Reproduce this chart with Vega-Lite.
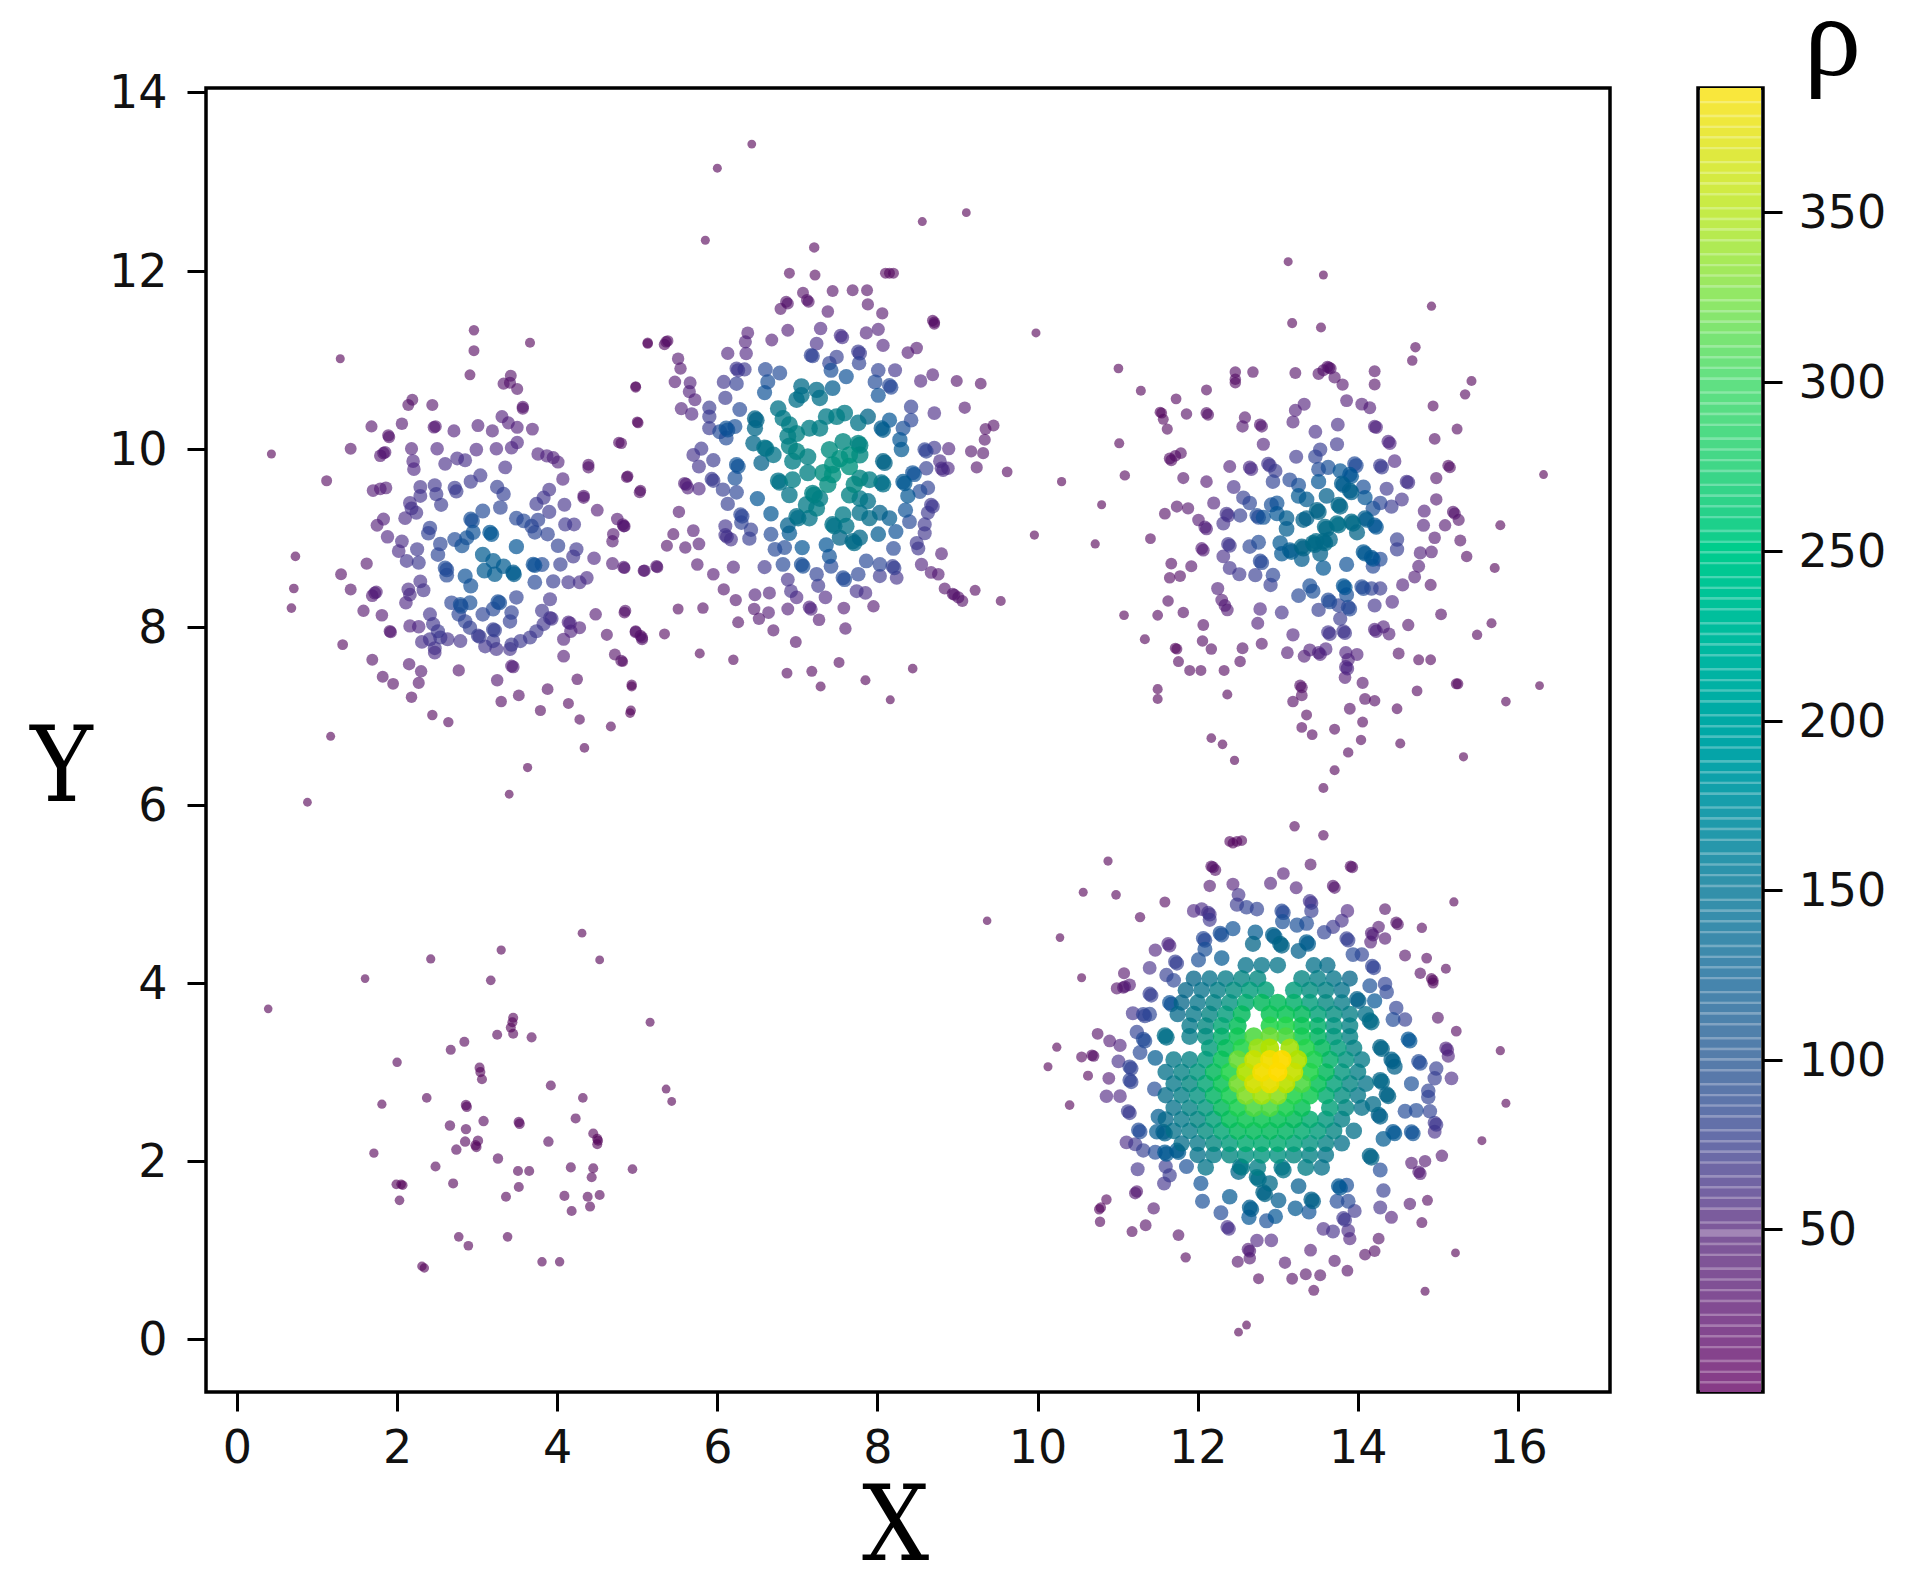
{"$schema":"https://vega.github.io/schema/vega-lite/v6.json","background":"white","padding":{"left":28,"top":-20,"right":5,"bottom":5},"spacing":88,"bounds":"flush","resolve":{"scale":{"color":"independent"}},"config":{"view":{"stroke":"#000","strokeWidth":3.5},"axis":{"domain":false,"grid":false,"tickColor":"#000","tickWidth":3,"tickSize":19,"labelFont":"DejaVu Sans","labelFontSize":46,"labelColor":"#111"}},"datasets":{"pts":[
{"x":0.43,"y":9.94,"r":5},{"x":1.29,"y":11.01,"r":5},{"x":2.96,"y":11.33,"r":12},{"x":2.96,"y":11.1,"r":15},{"x":2.91,"y":10.83,"r":15},{"x":3.66,"y":11.19,"r":10},{"x":5.13,"y":11.19,"r":12},{"x":4.98,"y":10.7,"r":12},{"x":5,"y":10.3,"r":15},{"x":4.77,"y":10.07,"r":18},{"x":4.39,"y":9.82,"r":25},{"x":4.39,"y":9.79,"r":25},{"x":4.88,"y":9.69,"r":18},{"x":5.04,"y":9.53,"r":18},{"x":4.33,"y":9.47,"r":30},{"x":4.33,"y":9.45,"r":30},{"x":4.5,"y":9.31,"r":35},{"x":3.42,"y":10.82,"r":22},{"x":3.33,"y":10.73,"r":25},{"x":3.41,"y":10.74,"r":25},{"x":3.5,"y":10.67,"r":25},{"x":3.57,"y":10.47,"r":28},{"x":3.57,"y":10.45,"r":28},{"x":2.19,"y":10.55,"r":22},{"x":2.14,"y":10.49,"r":22},{"x":2.44,"y":10.49,"r":25},{"x":1.68,"y":10.25,"r":25},{"x":2.06,"y":10.28,"r":30},{"x":1.89,"y":10.15,"r":28},{"x":1.9,"y":10.13,"r":28},{"x":2.46,"y":10.24,"r":32},{"x":2.48,"y":10.25,"r":32},{"x":2.71,"y":10.2,"r":40},{"x":3.01,"y":10.26,"r":40},{"x":3.19,"y":10.2,"r":42},{"x":3.31,"y":10.36,"r":40},{"x":3.39,"y":10.29,"r":40},{"x":3.5,"y":10.24,"r":40},{"x":3.69,"y":10.22,"r":38},{"x":1.42,"y":10,"r":22},{"x":1.83,"y":9.95,"r":32},{"x":1.85,"y":9.96,"r":32},{"x":1.79,"y":9.92,"r":32},{"x":2.18,"y":10,"r":42},{"x":2.2,"y":9.86,"r":50},{"x":2.21,"y":9.77,"r":50},{"x":2.5,"y":10,"r":50},{"x":2.6,"y":9.83,"r":58},{"x":2.75,"y":9.89,"r":58},{"x":2.85,"y":9.87,"r":60},{"x":2.99,"y":9.99,"r":52},{"x":3.24,"y":10,"r":50},{"x":3.43,"y":10.01,"r":50},{"x":3.5,"y":10.07,"r":48},{"x":3.35,"y":9.79,"r":60},{"x":3.76,"y":9.94,"r":45},{"x":3.87,"y":9.92,"r":45},{"x":3.95,"y":9.9,"r":42},{"x":4.01,"y":9.85,"r":42},{"x":4.07,"y":9.66,"r":45},{"x":1.12,"y":9.64,"r":15},{"x":1.7,"y":9.53,"r":35},{"x":1.79,"y":9.55,"r":35},{"x":1.86,"y":9.56,"r":38},{"x":2.29,"y":9.57,"r":62},{"x":2.47,"y":9.59,"r":68},{"x":2.29,"y":9.47,"r":65},{"x":2.49,"y":9.49,"r":72},{"x":2.55,"y":9.37,"r":75},{"x":2.72,"y":9.56,"r":75},{"x":2.74,"y":9.52,"r":75},{"x":2.92,"y":9.63,"r":72},{"x":3.04,"y":9.7,"r":70},{"x":3.25,"y":9.57,"r":80},{"x":3.33,"y":9.49,"r":82},{"x":3.29,"y":9.34,"r":88},{"x":2.16,"y":9.39,"r":60},{"x":2.24,"y":9.28,"r":62},{"x":2.1,"y":9.22,"r":55},{"x":2.18,"y":9.33,"r":62},{"x":3.9,"y":9.54,"r":62},{"x":3.83,"y":9.45,"r":68},{"x":3.74,"y":9.38,"r":72},{"x":3.9,"y":9.29,"r":72},{"x":4.09,"y":9.37,"r":62},{"x":4.75,"y":9.21,"r":32},{"x":4.83,"y":9.13,"r":30},{"x":4.7,"y":9.04,"r":30},{"x":4.69,"y":8.96,"r":30},{"x":1.83,"y":9.21,"r":40},{"x":1.75,"y":9.14,"r":38},{"x":1.88,"y":9.01,"r":48},{"x":2.06,"y":8.96,"r":55},{"x":2.02,"y":8.85,"r":55},{"x":2.41,"y":9.11,"r":85},{"x":2.39,"y":9.05,"r":85},{"x":2.92,"y":9.21,"r":105},{"x":2.94,"y":9.19,"r":105},{"x":3.07,"y":9.3,"r":100},{"x":3.16,"y":9.06,"r":120},{"x":3.18,"y":9.04,"r":120},{"x":2.95,"y":9.06,"r":110},{"x":2.72,"y":8.98,"r":100},{"x":2.87,"y":9,"r":108},{"x":2.81,"y":8.91,"r":108},{"x":2.54,"y":8.93,"r":90},{"x":2.51,"y":8.81,"r":90},{"x":2.25,"y":8.87,"r":70},{"x":2.12,"y":8.74,"r":65},{"x":2.27,"y":8.72,"r":72},{"x":3.49,"y":9.22,"r":95},{"x":3.58,"y":9.19,"r":95},{"x":3.68,"y":9.13,"r":92},{"x":3.72,"y":9.06,"r":92},{"x":3.88,"y":9.04,"r":85},{"x":3.76,"y":9.2,"r":85},{"x":4.1,"y":9.15,"r":70},{"x":4.21,"y":9.15,"r":65},{"x":3.49,"y":8.9,"r":115},{"x":4.01,"y":8.91,"r":85},{"x":4.24,"y":8.87,"r":70},{"x":4.2,"y":8.79,"r":68},{"x":4.04,"y":8.7,"r":80},{"x":4.46,"y":8.77,"r":50},{"x":4.69,"y":8.71,"r":38},{"x":4.83,"y":8.67,"r":35},{"x":5.09,"y":8.63,"r":30},{"x":5.24,"y":8.68,"r":30},{"x":3.07,"y":8.81,"r":130},{"x":3.2,"y":8.74,"r":130},{"x":3.33,"y":8.68,"r":130},{"x":3.09,"y":8.63,"r":128},{"x":3.22,"y":8.59,"r":130},{"x":3.45,"y":8.61,"r":135},{"x":3.46,"y":8.59,"r":135},{"x":3.7,"y":8.7,"r":110},{"x":3.72,"y":8.69,"r":110},{"x":3.81,"y":8.7,"r":100},{"x":3.72,"y":8.5,"r":95},{"x":3.95,"y":8.51,"r":78},{"x":4.14,"y":8.5,"r":65},{"x":4.28,"y":8.5,"r":58},{"x":4.37,"y":8.55,"r":55},{"x":2.6,"y":8.66,"r":100},{"x":2.62,"y":8.64,"r":100},{"x":2.62,"y":8.58,"r":95},{"x":2.85,"y":8.57,"r":110},{"x":2.92,"y":8.46,"r":108},{"x":1.62,"y":8.71,"r":28},{"x":1.3,"y":8.59,"r":20},{"x":1.42,"y":8.42,"r":22},{"x":0.73,"y":8.79,"r":8},{"x":0.71,"y":8.43,"r":8},{"x":0.68,"y":8.21,"r":8},{"x":1.72,"y":8.38,"r":38},{"x":1.74,"y":8.39,"r":38},{"x":1.69,"y":8.35,"r":35},{"x":2.29,"y":8.51,"r":60},{"x":2.14,"y":8.42,"r":55},{"x":2.16,"y":8.36,"r":55},{"x":2.33,"y":8.41,"r":62},{"x":2.11,"y":8.27,"r":52},{"x":1.58,"y":8.18,"r":28},{"x":1.81,"y":8.13,"r":32},{"x":1.32,"y":7.8,"r":14},{"x":1.91,"y":7.95,"r":30},{"x":1.92,"y":7.94,"r":30},{"x":2.16,"y":8.01,"r":45},{"x":2.27,"y":8,"r":50},{"x":2.41,"y":8.14,"r":65},{"x":2.45,"y":8.03,"r":68},{"x":2.51,"y":7.95,"r":72},{"x":2.31,"y":7.83,"r":58},{"x":2.41,"y":7.86,"r":65},{"x":2.54,"y":7.88,"r":70},{"x":2.47,"y":7.76,"r":62},{"x":2.63,"y":7.86,"r":62},{"x":2.47,"y":7.71,"r":55},{"x":2.68,"y":8.27,"r":90},{"x":2.79,"y":8.25,"r":105},{"x":2.8,"y":8.23,"r":105},{"x":2.91,"y":8.27,"r":105},{"x":2.77,"y":8.14,"r":90},{"x":2.85,"y":8.06,"r":85},{"x":2.91,"y":7.99,"r":80},{"x":2.79,"y":7.84,"r":62},{"x":3.07,"y":8.14,"r":88},{"x":3.2,"y":8.2,"r":95},{"x":3.26,"y":8.28,"r":105},{"x":3.28,"y":8.27,"r":105},{"x":3.49,"y":8.33,"r":85},{"x":3.91,"y":8.31,"r":65},{"x":3.43,"y":8.16,"r":85},{"x":3.41,"y":8.06,"r":82},{"x":3.81,"y":8.18,"r":68},{"x":3.91,"y":8.1,"r":62},{"x":3.93,"y":8.09,"r":62},{"x":3.83,"y":8.03,"r":68},{"x":3.74,"y":7.95,"r":72},{"x":3.66,"y":7.88,"r":72},{"x":3.54,"y":7.84,"r":72},{"x":3.43,"y":7.8,"r":72},{"x":3.2,"y":7.97,"r":80},{"x":3.22,"y":7.96,"r":80},{"x":3.01,"y":7.9,"r":75},{"x":3.03,"y":7.89,"r":75},{"x":3.1,"y":7.78,"r":65},{"x":3.2,"y":7.84,"r":72},{"x":3.24,"y":7.75,"r":62},{"x":3.41,"y":7.75,"r":62},{"x":4.14,"y":8.05,"r":48},{"x":4.16,"y":8.04,"r":48},{"x":4.17,"y":7.95,"r":45},{"x":4.28,"y":7.99,"r":40},{"x":4.08,"y":7.86,"r":42},{"x":4.08,"y":7.67,"r":35},{"x":4.48,"y":8.14,"r":32},{"x":4.85,"y":8.18,"r":25},{"x":4.62,"y":7.91,"r":25},{"x":4.98,"y":7.95,"r":22},{"x":5.06,"y":7.88,"r":22},{"x":5.04,"y":7.9,"r":22},{"x":4.72,"y":7.69,"r":22},{"x":4.8,"y":7.62,"r":22},{"x":2.15,"y":7.58,"r":30},{"x":2.3,"y":7.5,"r":30},{"x":2.27,"y":7.37,"r":25},{"x":1.82,"y":7.44,"r":22},{"x":1.95,"y":7.36,"r":20},{"x":1.69,"y":7.63,"r":22},{"x":2.18,"y":7.21,"r":18},{"x":2.77,"y":7.51,"r":28},{"x":3.43,"y":7.56,"r":38},{"x":3.45,"y":7.55,"r":38},{"x":3.25,"y":7.4,"r":30},{"x":4.25,"y":7.41,"r":18},{"x":3.88,"y":7.3,"r":20},{"x":3.52,"y":7.23,"r":20},{"x":3.3,"y":7.16,"r":18},{"x":3.79,"y":7.06,"r":16},{"x":4.14,"y":7.14,"r":15},{"x":4.93,"y":7.35,"r":12},{"x":4.92,"y":7.06,"r":10},{"x":4.28,"y":6.96,"r":12},{"x":4.67,"y":6.88,"r":10},{"x":2.44,"y":7.01,"r":12},{"x":2.64,"y":6.93,"r":12},{"x":1.17,"y":6.77,"r":5},{"x":4.34,"y":6.64,"r":8},{"x":3.63,"y":6.42,"r":6},{"x":3.4,"y":6.12,"r":4},{"x":0.88,"y":6.03,"r":4},
{"x":6.43,"y":13.42,"r":4},{"x":6,"y":13.15,"r":5},{"x":5.85,"y":12.34,"r":5},{"x":8.56,"y":12.55,"r":5},{"x":9.11,"y":12.65,"r":4},{"x":7.21,"y":12.26,"r":12},{"x":6.9,"y":11.97,"r":15},{"x":7.22,"y":11.95,"r":15},{"x":8.15,"y":11.97,"r":15},{"x":8.1,"y":11.97,"r":15},{"x":8.2,"y":11.97,"r":15},{"x":7.07,"y":11.75,"r":22},{"x":7.12,"y":11.67,"r":25},{"x":7.14,"y":11.65,"r":25},{"x":7.44,"y":11.77,"r":22},{"x":7.69,"y":11.78,"r":22},{"x":7.87,"y":11.78,"r":22},{"x":7.88,"y":11.62,"r":28},{"x":8.06,"y":11.52,"r":28},{"x":6.86,"y":11.65,"r":25},{"x":6.88,"y":11.63,"r":25},{"x":6.79,"y":11.57,"r":25},{"x":7.38,"y":11.54,"r":32},{"x":8.69,"y":11.44,"r":18},{"x":8.71,"y":11.42,"r":18},{"x":8.71,"y":11.4,"r":18},{"x":9.98,"y":11.3,"r":5},{"x":6.88,"y":11.33,"r":38},{"x":6.68,"y":11.22,"r":38},{"x":6.38,"y":11.3,"r":38},{"x":6.35,"y":11.2,"r":42},{"x":6.36,"y":11.07,"r":48},{"x":5.38,"y":11.21,"r":18},{"x":5.36,"y":11.2,"r":18},{"x":5.34,"y":11.17,"r":18},{"x":5.13,"y":11.18,"r":12},{"x":7.29,"y":11.35,"r":48},{"x":7.54,"y":11.27,"r":60},{"x":7.56,"y":11.25,"r":60},{"x":7.24,"y":11.18,"r":58},{"x":7.17,"y":11.05,"r":85},{"x":7.19,"y":11.04,"r":85},{"x":7.49,"y":11.03,"r":80},{"x":7.4,"y":10.96,"r":85},{"x":7.76,"y":11.09,"r":75},{"x":7.78,"y":11.07,"r":75},{"x":7.77,"y":10.96,"r":85},{"x":7.86,"y":11.3,"r":42},{"x":8.01,"y":11.34,"r":42},{"x":8.07,"y":11.16,"r":45},{"x":8.38,"y":11.08,"r":35},{"x":8.49,"y":11.13,"r":32},{"x":6.13,"y":11.07,"r":45},{"x":5.51,"y":11.01,"r":30},{"x":5.54,"y":10.9,"r":30},{"x":5.47,"y":10.75,"r":32},{"x":5.66,"y":10.74,"r":40},{"x":5.65,"y":10.64,"r":42},{"x":5.72,"y":10.55,"r":42},{"x":4.98,"y":10.69,"r":15},{"x":5.55,"y":10.45,"r":42},{"x":5.68,"y":10.39,"r":48},{"x":5.01,"y":10.29,"r":15},{"x":6.24,"y":10.9,"r":70},{"x":6.26,"y":10.88,"r":70},{"x":6.34,"y":10.89,"r":72},{"x":6.08,"y":10.75,"r":68},{"x":6.24,"y":10.73,"r":82},{"x":6.1,"y":10.57,"r":75},{"x":5.9,"y":10.46,"r":75},{"x":5.9,"y":10.36,"r":75},{"x":5.9,"y":10.23,"r":75},{"x":6.28,"y":10.44,"r":95},{"x":6.11,"y":10.23,"r":110},{"x":6.13,"y":10.21,"r":110},{"x":6.03,"y":10.19,"r":100},{"x":6.22,"y":10.25,"r":105},{"x":6.11,"y":10.12,"r":100},{"x":6.6,"y":10.89,"r":95},{"x":6.78,"y":10.85,"r":100},{"x":6.63,"y":10.75,"r":105},{"x":6.59,"y":10.63,"r":110},{"x":7.05,"y":10.7,"r":160},{"x":7.24,"y":10.66,"r":160},{"x":7.28,"y":10.57,"r":165},{"x":6.99,"y":10.55,"r":165},{"x":7.05,"y":10.6,"r":165},{"x":7.44,"y":10.68,"r":135},{"x":7.61,"y":10.81,"r":110},{"x":7.42,"y":10.88,"r":105},{"x":8.01,"y":10.88,"r":85},{"x":8.22,"y":10.88,"r":65},{"x":7.97,"y":10.75,"r":100},{"x":8.15,"y":10.71,"r":95},{"x":8.17,"y":10.69,"r":95},{"x":8.01,"y":10.6,"r":110},{"x":8.54,"y":10.76,"r":45},{"x":8.69,"y":10.83,"r":38},{"x":8.99,"y":10.76,"r":25},{"x":9.29,"y":10.73,"r":20},{"x":8.42,"y":10.47,"r":82},{"x":8.42,"y":10.32,"r":90},{"x":8.71,"y":10.4,"r":55},{"x":9.09,"y":10.46,"r":30},{"x":9.45,"y":10.26,"r":22},{"x":9.35,"y":10.22,"r":22},{"x":9.34,"y":10.1,"r":25},{"x":9.17,"y":9.97,"r":28},{"x":9.32,"y":9.95,"r":25},{"x":9.24,"y":9.79,"r":25},{"x":9.62,"y":9.74,"r":14},{"x":10.3,"y":9.63,"r":6},{"x":4.8,"y":10.06,"r":18},{"x":4.87,"y":9.68,"r":20},{"x":5.03,"y":9.51,"r":22},{"x":5.8,"y":10,"r":70},{"x":5.7,"y":9.93,"r":62},{"x":5.95,"y":9.87,"r":75},{"x":5.77,"y":9.8,"r":65},{"x":6.24,"y":9.82,"r":110},{"x":6.26,"y":9.8,"r":110},{"x":6.22,"y":9.67,"r":105},{"x":5.93,"y":9.66,"r":75},{"x":5.95,"y":9.64,"r":75},{"x":5.59,"y":9.61,"r":38},{"x":5.61,"y":9.6,"r":38},{"x":5.63,"y":9.56,"r":40},{"x":5.77,"y":9.55,"r":50},{"x":6.07,"y":9.54,"r":80},{"x":6.24,"y":9.51,"r":90},{"x":6.13,"y":9.38,"r":80},{"x":6.29,"y":9.26,"r":90},{"x":6.31,"y":9.24,"r":90},{"x":6.3,"y":9.17,"r":85},{"x":6.5,"y":9.44,"r":115},{"x":6.67,"y":9.27,"r":120},{"x":5.52,"y":9.29,"r":30},{"x":4.82,"y":9.15,"r":28},{"x":4.84,"y":9.13,"r":28},{"x":5.45,"y":9.04,"r":25},{"x":5.7,"y":9.08,"r":35},{"x":5.37,"y":8.91,"r":25},{"x":5.6,"y":8.89,"r":30},{"x":5.77,"y":8.93,"r":35},{"x":6.1,"y":9.13,"r":65},{"x":6.1,"y":9.03,"r":62},{"x":6.12,"y":9.01,"r":62},{"x":6.17,"y":8.98,"r":62},{"x":6.42,"y":9.09,"r":80},{"x":6.4,"y":8.99,"r":78},{"x":6.67,"y":9.04,"r":100},{"x":6.9,"y":9.05,"r":125},{"x":6.72,"y":8.87,"r":95},{"x":6.84,"y":8.89,"r":100},{"x":6.82,"y":8.7,"r":95},{"x":4.84,"y":8.66,"r":25},{"x":5.08,"y":8.63,"r":25},{"x":5.25,"y":8.67,"r":25},{"x":5.75,"y":8.7,"r":32},{"x":5.95,"y":8.59,"r":32},{"x":6.2,"y":8.67,"r":42},{"x":6.59,"y":8.67,"r":68},{"x":6.08,"y":8.42,"r":28},{"x":6.23,"y":8.3,"r":28},{"x":6.47,"y":8.36,"r":40},{"x":6.65,"y":8.38,"r":42},{"x":5.51,"y":8.2,"r":15},{"x":5.82,"y":8.21,"r":18},{"x":6.46,"y":8.2,"r":30},{"x":6.64,"y":8.16,"r":35},{"x":6.52,"y":8.09,"r":30},{"x":4.84,"y":8.16,"r":20},{"x":6.26,"y":8.05,"r":22},{"x":6.7,"y":7.96,"r":25},{"x":4.98,"y":7.94,"r":25},{"x":5.06,"y":7.86,"r":25},{"x":5.34,"y":7.92,"r":15},{"x":6.98,"y":7.83,"r":22},{"x":5.78,"y":7.7,"r":10},{"x":6.2,"y":7.63,"r":12},{"x":4.82,"y":7.61,"r":12},{"x":6.87,"y":7.48,"r":15},{"x":7.18,"y":7.5,"r":15},{"x":7.52,"y":7.6,"r":15},{"x":7.29,"y":7.33,"r":10},{"x":7.85,"y":7.4,"r":10},{"x":8.44,"y":7.53,"r":8},{"x":8.16,"y":7.18,"r":5},{"x":7.6,"y":7.98,"r":30},{"x":4.93,"y":7.33,"r":10},{"x":4.91,"y":7.03,"r":8},{"x":6.88,"y":8.53,"r":62},{"x":6.92,"y":8.4,"r":60},{"x":6.99,"y":8.33,"r":50},{"x":6.88,"y":8.2,"r":38},{"x":7.15,"y":8.22,"r":45},{"x":7.17,"y":8.2,"r":45},{"x":7.05,"y":8.7,"r":105},{"x":7.07,"y":8.68,"r":105},{"x":7.24,"y":8.59,"r":85},{"x":7.26,"y":8.46,"r":70},{"x":7.35,"y":8.33,"r":50},{"x":7.27,"y":8.08,"r":32},{"x":7.58,"y":8.21,"r":35},{"x":7.95,"y":8.23,"r":30},{"x":7.06,"y":8.89,"r":115},{"x":7.36,"y":8.92,"r":115},{"x":7.4,"y":8.79,"r":110},{"x":7.42,"y":8.68,"r":95},{"x":7.57,"y":8.55,"r":100},{"x":7.59,"y":8.53,"r":100},{"x":7.76,"y":8.59,"r":90},{"x":7.74,"y":8.4,"r":62},{"x":7.85,"y":8.38,"r":55},{"x":7.86,"y":8.74,"r":95},{"x":8.03,"y":8.7,"r":90},{"x":8.03,"y":8.57,"r":72},{"x":8.19,"y":8.68,"r":80},{"x":8.21,"y":8.66,"r":80},{"x":8.24,"y":8.55,"r":62},{"x":8.2,"y":8.88,"r":95},{"x":8.55,"y":8.7,"r":45},{"x":8.67,"y":8.61,"r":35},{"x":8.76,"y":8.59,"r":32},{"x":8.8,"y":8.82,"r":38},{"x":8.49,"y":8.94,"r":70},{"x":8.51,"y":8.88,"r":68},{"x":8.23,"y":9.07,"r":110},{"x":8.84,"y":8.43,"r":25},{"x":8.94,"y":8.37,"r":25},{"x":8.96,"y":8.36,"r":25},{"x":9.01,"y":8.33,"r":25},{"x":9.06,"y":8.29,"r":22},{"x":9.22,"y":8.41,"r":15},{"x":9.54,"y":8.29,"r":10},{"x":9.96,"y":9.03,"r":6},{"x":8.59,"y":9.15,"r":70},{"x":8.59,"y":9.05,"r":68},{"x":8.4,"y":9.18,"r":95},{"x":8.35,"y":9.31,"r":110},{"x":8.67,"y":9.37,"r":70},{"x":8.69,"y":9.35,"r":70},{"x":8.63,"y":9.28,"r":72},{"x":8.63,"y":9.56,"r":85},{"x":8.38,"y":9.47,"r":120},{"x":8.53,"y":9.52,"r":100},{"x":8.32,"y":9.63,"r":125},{"x":8.34,"y":9.61,"r":125},{"x":8.44,"y":9.73,"r":110},{"x":8.46,"y":9.71,"r":110},{"x":8.61,"y":9.78,"r":80},{"x":8.8,"y":9.78,"r":55},{"x":8.82,"y":9.76,"r":55},{"x":8.88,"y":9.78,"r":52},{"x":8.78,"y":9.86,"r":55},{"x":8.59,"y":9.99,"r":85},{"x":8.61,"y":9.97,"r":85},{"x":8.71,"y":10.01,"r":70},{"x":8.89,"y":10,"r":45},{"x":8.28,"y":10.1,"r":115},{"x":8.3,"y":9.99,"r":125},{"x":8.32,"y":10.23,"r":105},{"x":8.07,"y":9.86,"r":150},{"x":8.09,"y":9.84,"r":150},{"x":8.05,"y":10.23,"r":135},{"x":8.07,"y":10.21,"r":135},{"x":8.15,"y":10.32,"r":115},
{"x":6.47,"y":10.34,"r":150},{"x":6.49,"y":10.32,"r":150},{"x":6.47,"y":10.23,"r":155},{"x":6.45,"y":10.06,"r":155},{"x":6.59,"y":10.01,"r":170},{"x":6.61,"y":10,"r":170},{"x":6.7,"y":9.93,"r":170},{"x":6.55,"y":9.84,"r":145},{"x":6.76,"y":10.45,"r":170},{"x":6.82,"y":10.34,"r":180},{"x":6.9,"y":10.27,"r":185},{"x":6.88,"y":10.14,"r":185},{"x":6.99,"y":10.17,"r":190},{"x":6.9,"y":10.03,"r":190},{"x":6.99,"y":9.97,"r":195},{"x":6.94,"y":9.86,"r":185},{"x":7.13,"y":9.91,"r":190},{"x":7.15,"y":10.23,"r":185},{"x":7.28,"y":10.23,"r":185},{"x":7.36,"y":10.36,"r":180},{"x":7.49,"y":10.36,"r":185},{"x":7.59,"y":10.4,"r":180},{"x":7.76,"y":10.29,"r":170},{"x":7.88,"y":10.36,"r":150},{"x":7.57,"y":10.08,"r":200},{"x":7.4,"y":9.99,"r":205},{"x":7.76,"y":10.06,"r":195},{"x":7.78,"y":10.04,"r":195},{"x":7.78,"y":9.93,"r":200},{"x":7.65,"y":9.93,"r":208},{"x":7.53,"y":9.89,"r":210},{"x":7.44,"y":9.82,"r":210},{"x":7.65,"y":9.8,"r":212},{"x":7.32,"y":9.73,"r":205},{"x":7.13,"y":9.73,"r":190},{"x":7.44,"y":9.71,"r":210},{"x":7.38,"y":9.6,"r":205},{"x":6.76,"y":9.64,"r":170},{"x":6.78,"y":9.62,"r":170},{"x":6.94,"y":9.65,"r":185},{"x":7.9,"y":9.65,"r":185},{"x":8.05,"y":9.62,"r":165},{"x":8.07,"y":9.6,"r":165},{"x":7.78,"y":9.67,"r":195},{"x":7.71,"y":9.6,"r":200},{"x":7.19,"y":9.5,"r":190},{"x":7.21,"y":9.48,"r":190},{"x":7.28,"y":9.44,"r":185},{"x":7.11,"y":9.37,"r":180},{"x":7.24,"y":9.33,"r":185},{"x":6.99,"y":9.24,"r":165},{"x":7.01,"y":9.22,"r":165},{"x":7.15,"y":9.22,"r":170},{"x":6.9,"y":9.48,"r":170},{"x":6.88,"y":9.14,"r":140},{"x":7.65,"y":9.48,"r":190},{"x":7.78,"y":9.44,"r":175},{"x":7.88,"y":9.41,"r":165},{"x":7.57,"y":9.26,"r":180},{"x":7.78,"y":9.28,"r":165},{"x":7.9,"y":9.22,"r":160},{"x":8.03,"y":9.28,"r":145},{"x":8.15,"y":9.22,"r":130},{"x":7.44,"y":9.15,"r":170},{"x":7.46,"y":9.13,"r":170},{"x":7.61,"y":9.13,"r":170},{"x":8.01,"y":9.04,"r":130},{"x":7.69,"y":8.96,"r":160},{"x":7.71,"y":8.94,"r":160},{"x":7.53,"y":9,"r":150},{"x":7.78,"y":9,"r":155},
{"x":13.13,"y":12.1,"r":5},{"x":13.57,"y":11.95,"r":5},{"x":14.92,"y":11.6,"r":6},{"x":13.18,"y":11.41,"r":10},{"x":13.54,"y":11.36,"r":10},{"x":14.72,"y":11.14,"r":12},{"x":14.68,"y":10.99,"r":12},{"x":11.01,"y":10.9,"r":8},{"x":12.47,"y":10.86,"r":18},{"x":12.47,"y":10.78,"r":18},{"x":12.47,"y":10.74,"r":18},{"x":12.69,"y":10.86,"r":18},{"x":13.22,"y":10.85,"r":22},{"x":13.51,"y":10.84,"r":25},{"x":13.64,"y":10.91,"r":25},{"x":13.66,"y":10.9,"r":25},{"x":13.62,"y":10.92,"r":25},{"x":13.57,"y":10.88,"r":25},{"x":13.71,"y":10.8,"r":28},{"x":13.81,"y":10.72,"r":28},{"x":14.21,"y":10.87,"r":22},{"x":14.21,"y":10.72,"r":22},{"x":15.42,"y":10.76,"r":10},{"x":15.34,"y":10.61,"r":12},{"x":11.29,"y":10.65,"r":10},{"x":12.11,"y":10.66,"r":15},{"x":11.73,"y":10.56,"r":14},{"x":11.53,"y":10.41,"r":15},{"x":11.55,"y":10.4,"r":15},{"x":11.57,"y":10.33,"r":15},{"x":11.62,"y":10.22,"r":16},{"x":11.86,"y":10.39,"r":18},{"x":12.11,"y":10.4,"r":22},{"x":12.13,"y":10.38,"r":22},{"x":12.59,"y":10.35,"r":28},{"x":12.56,"y":10.25,"r":30},{"x":12.78,"y":10.27,"r":30},{"x":12.8,"y":10.25,"r":30},{"x":13.33,"y":10.5,"r":40},{"x":13.22,"y":10.43,"r":40},{"x":13.19,"y":10.3,"r":42},{"x":13.86,"y":10.54,"r":38},{"x":14.05,"y":10.5,"r":38},{"x":14.15,"y":10.46,"r":38},{"x":14.21,"y":10.25,"r":45},{"x":14.23,"y":10.24,"r":45},{"x":14.38,"y":10.08,"r":48},{"x":14.4,"y":10.06,"r":48},{"x":14.94,"y":10.48,"r":15},{"x":15.24,"y":10.22,"r":15},{"x":14.96,"y":10.11,"r":20},{"x":11.02,"y":10.06,"r":10},{"x":12.82,"y":10.05,"r":42},{"x":13.47,"y":10.19,"r":58},{"x":13.75,"y":10.27,"r":58},{"x":11.09,"y":9.7,"r":12},{"x":11.65,"y":9.89,"r":20},{"x":11.67,"y":9.87,"r":20},{"x":11.79,"y":9.95,"r":20},{"x":11.72,"y":9.92,"r":20},{"x":11.82,"y":9.67,"r":25},{"x":12.11,"y":9.63,"r":32},{"x":12.4,"y":9.8,"r":40},{"x":12.65,"y":9.79,"r":55},{"x":12.67,"y":9.77,"r":55},{"x":12.88,"y":9.83,"r":68},{"x":12.9,"y":9.81,"r":68},{"x":12.97,"y":9.75,"r":75},{"x":12.94,"y":9.63,"r":85},{"x":13.23,"y":9.91,"r":70},{"x":13.47,"y":9.91,"r":85},{"x":13.53,"y":9.99,"r":78},{"x":13.74,"y":10.05,"r":70},{"x":15.13,"y":9.81,"r":22},{"x":15.15,"y":9.79,"r":22},{"x":14.98,"y":9.67,"r":28},{"x":16.32,"y":9.71,"r":4},{"x":14.61,"y":9.63,"r":62},{"x":14.63,"y":9.62,"r":62},{"x":14.46,"y":9.86,"r":50},{"x":14.28,"y":9.81,"r":75},{"x":14.3,"y":9.79,"r":75},{"x":13.96,"y":9.83,"r":100},{"x":13.98,"y":9.81,"r":100},{"x":13.9,"y":9.71,"r":115},{"x":13.92,"y":9.69,"r":115},{"x":13.78,"y":9.75,"r":115},{"x":13.63,"y":9.79,"r":105},{"x":13.51,"y":9.77,"r":100},{"x":12.45,"y":9.57,"r":60},{"x":12.57,"y":9.45,"r":80},{"x":12.65,"y":9.39,"r":90},{"x":12.2,"y":9.39,"r":42},{"x":12.74,"y":9.25,"r":100},{"x":12.76,"y":9.23,"r":100},{"x":12.92,"y":9.37,"r":105},{"x":12.99,"y":9.39,"r":110},{"x":12.99,"y":9.27,"r":115},{"x":12.82,"y":9.23,"r":110},{"x":13.15,"y":9.65,"r":95},{"x":13.26,"y":9.59,"r":105},{"x":13.26,"y":9.47,"r":125},{"x":13.36,"y":9.43,"r":130},{"x":13.51,"y":9.63,"r":115},{"x":13.61,"y":9.47,"r":140},{"x":13.8,"y":9.61,"r":135},{"x":13.82,"y":9.59,"r":135},{"x":13.9,"y":9.53,"r":140},{"x":13.92,"y":9.51,"r":140},{"x":13.76,"y":9.37,"r":155},{"x":13.78,"y":9.35,"r":155},{"x":14.07,"y":9.57,"r":105},{"x":14.09,"y":9.45,"r":115},{"x":14.36,"y":9.55,"r":70},{"x":14.55,"y":9.43,"r":62},{"x":14.42,"y":9.35,"r":75},{"x":14.19,"y":9.33,"r":105},{"x":14.28,"y":9.39,"r":90},{"x":14.98,"y":9.43,"r":30},{"x":14.83,"y":9.3,"r":40},{"x":15.19,"y":9.29,"r":28},{"x":15.21,"y":9.27,"r":28},{"x":15.26,"y":9.2,"r":25},{"x":14.82,"y":9.14,"r":42},{"x":15.09,"y":9.14,"r":30},{"x":14.96,"y":9,"r":32},{"x":15.28,"y":8.97,"r":22},{"x":15.78,"y":9.14,"r":10},{"x":10.8,"y":9.37,"r":5},{"x":11.74,"y":9.35,"r":25},{"x":11.59,"y":9.27,"r":20},{"x":11.88,"y":9.33,"r":28},{"x":12.01,"y":9.2,"r":32},{"x":12.09,"y":9.12,"r":40},{"x":12.11,"y":9.1,"r":40},{"x":12.36,"y":9.27,"r":62},{"x":12.38,"y":9.25,"r":62},{"x":12.32,"y":9.16,"r":62},{"x":12.53,"y":9.25,"r":80},{"x":11.41,"y":8.99,"r":14},{"x":10.72,"y":8.93,"r":6},{"x":12.05,"y":8.88,"r":35},{"x":12.07,"y":8.86,"r":35},{"x":12.38,"y":8.93,"r":68},{"x":12.4,"y":8.91,"r":68},{"x":12.65,"y":8.9,"r":90},{"x":12.76,"y":8.95,"r":100},{"x":12.32,"y":8.79,"r":58},{"x":12.78,"y":8.74,"r":95},{"x":12.8,"y":8.72,"r":95},{"x":11.67,"y":8.71,"r":20},{"x":11.92,"y":8.68,"r":25},{"x":11.65,"y":8.55,"r":18},{"x":11.78,"y":8.57,"r":20},{"x":12.4,"y":8.66,"r":65},{"x":12.52,"y":8.59,"r":70},{"x":12.72,"y":8.58,"r":78},{"x":12.94,"y":8.58,"r":90},{"x":12.91,"y":8.47,"r":78},{"x":13.11,"y":9.22,"r":135},{"x":13.36,"y":9.22,"r":145},{"x":13.49,"y":9.31,"r":150},{"x":13.51,"y":9.29,"r":150},{"x":13.32,"y":9.2,"r":145},{"x":13.59,"y":9.12,"r":160},{"x":13.61,"y":9.1,"r":160},{"x":13.74,"y":9.16,"r":165},{"x":13.76,"y":9.14,"r":165},{"x":13.92,"y":9.18,"r":160},{"x":13.94,"y":9.16,"r":160},{"x":13.99,"y":9.06,"r":150},{"x":14.09,"y":9.22,"r":135},{"x":14.11,"y":9.2,"r":135},{"x":14.21,"y":9.14,"r":115},{"x":14.23,"y":9.12,"r":115},{"x":13.11,"y":9.1,"r":135},{"x":13.03,"y":8.94,"r":125},{"x":13.05,"y":8.82,"r":120},{"x":13.15,"y":8.86,"r":135},{"x":13.17,"y":8.84,"r":135},{"x":13.3,"y":8.9,"r":150},{"x":13.32,"y":8.88,"r":150},{"x":13.44,"y":8.94,"r":160},{"x":13.46,"y":8.92,"r":160},{"x":13.48,"y":8.96,"r":160},{"x":13.57,"y":8.96,"r":160},{"x":13.59,"y":8.94,"r":160},{"x":13.65,"y":8.98,"r":155},{"x":13.3,"y":8.76,"r":135},{"x":13.53,"y":8.82,"r":145},{"x":13.57,"y":8.66,"r":120},{"x":13.86,"y":8.7,"r":110},{"x":14.07,"y":8.84,"r":125},{"x":14.09,"y":8.82,"r":125},{"x":14.17,"y":8.78,"r":115},{"x":14.19,"y":8.76,"r":115},{"x":14.28,"y":8.76,"r":100},{"x":14.19,"y":8.68,"r":95},{"x":14.49,"y":8.98,"r":80},{"x":14.49,"y":8.87,"r":78},{"x":14.78,"y":8.83,"r":42},{"x":14.92,"y":8.84,"r":35},{"x":14.76,"y":8.68,"r":38},{"x":14.71,"y":8.56,"r":38},{"x":14.56,"y":8.47,"r":42},{"x":14.91,"y":8.47,"r":25},{"x":15.36,"y":8.79,"r":18},{"x":15.71,"y":8.66,"r":10},{"x":13.4,"y":8.46,"r":105},{"x":13.26,"y":8.35,"r":95},{"x":13.44,"y":8.4,"r":105},{"x":13.82,"y":8.46,"r":115},{"x":13.84,"y":8.44,"r":115},{"x":13.63,"y":8.3,"r":100},{"x":13.65,"y":8.28,"r":100},{"x":13.86,"y":8.36,"r":105},{"x":14.05,"y":8.45,"r":100},{"x":14.07,"y":8.43,"r":100},{"x":14.17,"y":8.43,"r":85},{"x":14.28,"y":8.43,"r":75},{"x":13.88,"y":8.22,"r":95},{"x":13.9,"y":8.2,"r":95},{"x":13.76,"y":8.24,"r":85},{"x":13.51,"y":8.19,"r":80},{"x":14.21,"y":8.24,"r":65},{"x":14.43,"y":8.28,"r":50},{"x":13.05,"y":8.16,"r":62},{"x":12.78,"y":8.2,"r":50},{"x":12.75,"y":8.04,"r":40},{"x":12.25,"y":8.43,"r":42},{"x":12.3,"y":8.3,"r":35},{"x":12.34,"y":8.24,"r":35},{"x":12.37,"y":8.19,"r":35},{"x":11.63,"y":8.29,"r":18},{"x":11.82,"y":8.16,"r":18},{"x":11.5,"y":8.13,"r":14},{"x":11.08,"y":8.13,"r":8},{"x":12.07,"y":8.02,"r":20},{"x":11.34,"y":7.86,"r":10},{"x":12.06,"y":7.84,"r":18},{"x":12.17,"y":7.75,"r":18},{"x":11.72,"y":7.76,"r":15},{"x":11.74,"y":7.75,"r":15},{"x":11.76,"y":7.61,"r":15},{"x":11.9,"y":7.51,"r":15},{"x":12.04,"y":7.51,"r":15},{"x":12.33,"y":7.51,"r":15},{"x":12.56,"y":7.76,"r":22},{"x":12.53,"y":7.61,"r":18},{"x":12.8,"y":7.81,"r":25},{"x":13.19,"y":7.91,"r":45},{"x":13.12,"y":7.71,"r":35},{"x":13.33,"y":7.67,"r":38},{"x":13.4,"y":7.74,"r":42},{"x":13.51,"y":7.71,"r":45},{"x":13.53,"y":7.69,"r":45},{"x":13.6,"y":7.75,"r":48},{"x":13.63,"y":7.94,"r":65},{"x":13.65,"y":7.92,"r":65},{"x":13.78,"y":8.09,"r":75},{"x":13.82,"y":7.95,"r":68},{"x":13.84,"y":7.93,"r":68},{"x":14.21,"y":7.97,"r":45},{"x":14.23,"y":7.95,"r":45},{"x":14.32,"y":8,"r":42},{"x":14.39,"y":7.92,"r":38},{"x":14.63,"y":8.02,"r":28},{"x":15.04,"y":8.14,"r":20},{"x":15.67,"y":8.04,"r":10},{"x":15.49,"y":7.91,"r":12},{"x":14.51,"y":7.7,"r":22},{"x":14.76,"y":7.63,"r":15},{"x":14.91,"y":7.63,"r":14},{"x":15.23,"y":7.36,"r":15},{"x":15.25,"y":7.36,"r":15},{"x":16.27,"y":7.34,"r":4},{"x":15.85,"y":7.16,"r":8},{"x":14.74,"y":7.28,"r":14},{"x":14.49,"y":7.08,"r":14},{"x":14.53,"y":6.69,"r":10},{"x":15.32,"y":6.54,"r":6},{"x":13.85,"y":7.71,"r":45},{"x":13.99,"y":7.69,"r":40},{"x":13.88,"y":7.63,"r":45},{"x":13.85,"y":7.55,"r":50},{"x":13.87,"y":7.53,"r":50},{"x":13.84,"y":7.43,"r":35},{"x":14.06,"y":7.37,"r":25},{"x":14.09,"y":7.19,"r":20},{"x":14.21,"y":7.17,"r":18},{"x":13.9,"y":7.08,"r":20},{"x":14.06,"y":6.93,"r":15},{"x":14.04,"y":6.73,"r":12},{"x":13.88,"y":6.59,"r":12},{"x":13.71,"y":6.39,"r":10},{"x":13.57,"y":6.19,"r":10},{"x":13.71,"y":6.85,"r":15},{"x":13.28,"y":7.34,"r":22},{"x":13.3,"y":7.32,"r":22},{"x":13.3,"y":7.23,"r":20},{"x":13.19,"y":7.16,"r":18},{"x":13.36,"y":7.01,"r":15},{"x":13.3,"y":6.87,"r":14},{"x":13.43,"y":6.79,"r":14},{"x":11.5,"y":7.3,"r":10},{"x":11.5,"y":7.19,"r":10},{"x":12.37,"y":7.24,"r":10},{"x":12.17,"y":6.75,"r":8},{"x":12.31,"y":6.68,"r":8},{"x":12.46,"y":6.5,"r":6},
{"x":4.31,"y":4.56,"r":4},{"x":3.3,"y":4.37,"r":6},{"x":4.53,"y":4.26,"r":4},{"x":2.42,"y":4.27,"r":6},{"x":1.6,"y":4.05,"r":3},{"x":3.17,"y":4.03,"r":8},{"x":0.39,"y":3.71,"r":3},{"x":5.16,"y":3.56,"r":5},{"x":3.45,"y":3.61,"r":10},{"x":3.44,"y":3.56,"r":10},{"x":3.42,"y":3.5,"r":10},{"x":3.45,"y":3.43,"r":10},{"x":3.25,"y":3.42,"r":10},{"x":3.68,"y":3.39,"r":10},{"x":2.84,"y":3.34,"r":10},{"x":2.67,"y":3.25,"r":10},{"x":2,"y":3.11,"r":7},{"x":3.03,"y":3.05,"r":10},{"x":3.04,"y":3,"r":10},{"x":3.06,"y":2.92,"r":10},{"x":3.92,"y":2.85,"r":10},{"x":5.36,"y":2.81,"r":4},{"x":5.43,"y":2.67,"r":4},{"x":4.32,"y":2.71,"r":8},{"x":2.37,"y":2.71,"r":8},{"x":1.81,"y":2.64,"r":6},{"x":2.86,"y":2.63,"r":12},{"x":2.87,"y":2.61,"r":12},{"x":3.08,"y":2.45,"r":12},{"x":3.52,"y":2.44,"r":12},{"x":3.53,"y":2.42,"r":12},{"x":4.23,"y":2.48,"r":10},{"x":2.66,"y":2.4,"r":12},{"x":2.86,"y":2.36,"r":12},{"x":4.45,"y":2.31,"r":10},{"x":4.5,"y":2.25,"r":10},{"x":4.51,"y":2.23,"r":10},{"x":4.5,"y":2.19,"r":10},{"x":3.89,"y":2.22,"r":12},{"x":3.01,"y":2.23,"r":12},{"x":2.98,"y":2.18,"r":12},{"x":2.99,"y":2.16,"r":12},{"x":2.85,"y":2.22,"r":12},{"x":2.74,"y":2.13,"r":12},{"x":1.71,"y":2.09,"r":6},{"x":3.26,"y":2.03,"r":12},{"x":2.48,"y":1.94,"r":10},{"x":4.17,"y":1.93,"r":10},{"x":4.45,"y":1.92,"r":10},{"x":4.94,"y":1.91,"r":8},{"x":3.65,"y":1.89,"r":10},{"x":3.51,"y":1.89,"r":10},{"x":4.43,"y":1.82,"r":10},{"x":2.7,"y":1.75,"r":10},{"x":1.99,"y":1.74,"r":8},{"x":2.05,"y":1.74,"r":8},{"x":2.07,"y":1.73,"r":8},{"x":3.52,"y":1.71,"r":10},{"x":2.03,"y":1.56,"r":8},{"x":3.36,"y":1.6,"r":10},{"x":4.09,"y":1.61,"r":10},{"x":4.38,"y":1.6,"r":10},{"x":4.53,"y":1.62,"r":10},{"x":4.41,"y":1.49,"r":10},{"x":4.18,"y":1.44,"r":10},{"x":2.77,"y":1.15,"r":8},{"x":3.38,"y":1.15,"r":8},{"x":2.89,"y":1.05,"r":8},{"x":2.31,"y":0.82,"r":7},{"x":2.34,"y":0.8,"r":7},{"x":3.81,"y":0.87,"r":7},{"x":4.03,"y":0.87,"r":7},{"x":9.37,"y":4.7,"r":3},
{"x":13.21,"y":5.76,"r":12},{"x":13.57,"y":5.66,"r":12},{"x":12.4,"y":5.59,"r":14},{"x":12.49,"y":5.59,"r":14},{"x":12.55,"y":5.6,"r":14},{"x":12.44,"y":5.57,"r":14},{"x":10.88,"y":5.37,"r":6},{"x":12.17,"y":5.31,"r":22},{"x":12.19,"y":5.3,"r":22},{"x":12.22,"y":5.27,"r":22},{"x":13.41,"y":5.33,"r":22},{"x":13.91,"y":5.31,"r":20},{"x":13.93,"y":5.3,"r":20},{"x":13.07,"y":5.23,"r":35},{"x":12.91,"y":5.12,"r":40},{"x":12.15,"y":5.09,"r":30},{"x":12.44,"y":5.11,"r":38},{"x":13.23,"y":5.07,"r":40},{"x":13.69,"y":5.09,"r":28},{"x":13.71,"y":5.07,"r":28},{"x":10.57,"y":5.02,"r":5},{"x":10.98,"y":4.99,"r":8},{"x":11.59,"y":4.91,"r":15},{"x":11.28,"y":4.74,"r":12},{"x":15.2,"y":4.91,"r":6},{"x":12.51,"y":4.99,"r":62},{"x":12.49,"y":4.88,"r":75},{"x":12.61,"y":4.85,"r":85},{"x":12.74,"y":4.83,"r":85},{"x":13.4,"y":4.92,"r":65},{"x":13.42,"y":4.9,"r":65},{"x":13.42,"y":4.81,"r":78},{"x":13.05,"y":4.81,"r":95},{"x":13.07,"y":4.79,"r":95},{"x":13.06,"y":4.69,"r":105},{"x":11.95,"y":4.81,"r":50},{"x":12.05,"y":4.83,"r":55},{"x":12.13,"y":4.79,"r":62},{"x":12.15,"y":4.77,"r":62},{"x":12.15,"y":4.71,"r":70},{"x":13.87,"y":4.81,"r":50},{"x":13.8,"y":4.7,"r":60},{"x":13.69,"y":4.63,"r":72},{"x":13.58,"y":4.57,"r":85},{"x":14.34,"y":4.83,"r":22},{"x":14.48,"y":4.68,"r":22},{"x":14.5,"y":4.66,"r":22},{"x":14.26,"y":4.63,"r":30},{"x":14.17,"y":4.56,"r":38},{"x":14.19,"y":4.54,"r":38},{"x":14.34,"y":4.5,"r":30},{"x":14.16,"y":4.46,"r":38},{"x":14.8,"y":4.62,"r":12},{"x":13.86,"y":4.5,"r":80},{"x":13.88,"y":4.48,"r":80},{"x":10.28,"y":4.51,"r":3},{"x":12.44,"y":4.61,"r":110},{"x":12.28,"y":4.56,"r":105},{"x":12.3,"y":4.54,"r":105},{"x":12.07,"y":4.5,"r":95},{"x":12.09,"y":4.48,"r":95},{"x":12.09,"y":4.38,"r":105},{"x":12.3,"y":4.28,"r":125},{"x":12.01,"y":4.26,"r":105},{"x":12.72,"y":4.57,"r":130},{"x":12.94,"y":4.54,"r":140},{"x":12.96,"y":4.52,"r":140},{"x":13.03,"y":4.44,"r":150},{"x":13.05,"y":4.42,"r":150},{"x":12.69,"y":4.44,"r":150},{"x":13.24,"y":4.65,"r":105},{"x":13.36,"y":4.67,"r":100},{"x":13.36,"y":4.46,"r":135},{"x":13.38,"y":4.44,"r":135},{"x":13.26,"y":4.36,"r":140},{"x":11.47,"y":4.37,"r":45},{"x":11.63,"y":4.44,"r":48},{"x":11.65,"y":4.42,"r":48},{"x":11.4,"y":4.17,"r":60},{"x":11.72,"y":4.24,"r":80},{"x":11.74,"y":4.22,"r":80},{"x":11.61,"y":4.09,"r":80},{"x":11.7,"y":4.03,"r":90},{"x":10.55,"y":4.06,"r":5},{"x":11.08,"y":4.11,"r":25},{"x":11.07,"y":3.95,"r":30},{"x":11.09,"y":3.96,"r":30},{"x":11.15,"y":3.98,"r":35},{"x":10.99,"y":3.94,"r":25},{"x":11.4,"y":3.88,"r":80},{"x":11.42,"y":3.86,"r":80},{"x":11.32,"y":3.65,"r":85},{"x":11.34,"y":3.63,"r":85},{"x":11.19,"y":3.66,"r":65},{"x":11.4,"y":3.65,"r":90},{"x":11.65,"y":3.78,"r":110},{"x":11.67,"y":3.76,"r":110},{"x":13.94,"y":4.32,"r":95},{"x":14.05,"y":4.32,"r":85},{"x":14.18,"y":4.19,"r":85},{"x":14.2,"y":4.17,"r":85},{"x":14.15,"y":3.97,"r":105},{"x":14.34,"y":3.99,"r":85},{"x":14.36,"y":3.9,"r":90},{"x":14.21,"y":3.8,"r":115},{"x":13.99,"y":3.82,"r":145},{"x":14.01,"y":3.8,"r":145},{"x":14.59,"y":4.31,"r":22},{"x":14.86,"y":4.28,"r":14},{"x":14.78,"y":4.11,"r":18},{"x":14.92,"y":4.05,"r":16},{"x":14.94,"y":4.03,"r":16},{"x":14.94,"y":4,"r":16},{"x":15.1,"y":4.16,"r":10},{"x":14.48,"y":3.72,"r":85},{"x":14.44,"y":3.59,"r":100},{"x":14.59,"y":3.59,"r":80},{"x":15,"y":3.61,"r":22},{"x":15.23,"y":3.46,"r":14},{"x":14.15,"y":3.58,"r":160},{"x":14.17,"y":3.56,"r":160},{"x":14.63,"y":3.37,"r":115},{"x":14.65,"y":3.35,"r":115},{"x":14.28,"y":3.28,"r":150},{"x":14.3,"y":3.26,"r":150},{"x":14.42,"y":3.14,"r":145},{"x":14.44,"y":3.12,"r":145},{"x":14.46,"y":3.06,"r":145},{"x":14.76,"y":3.12,"r":100},{"x":14.78,"y":3.1,"r":100},{"x":15.1,"y":3.27,"r":45},{"x":15.12,"y":3.25,"r":45},{"x":15.13,"y":3.18,"r":45},{"x":14.98,"y":3.04,"r":80},{"x":15.17,"y":2.93,"r":55},{"x":15.78,"y":3.24,"r":6},{"x":15.85,"y":2.65,"r":5},{"x":14.96,"y":2.93,"r":80},{"x":14.88,"y":2.79,"r":85},{"x":14.67,"y":2.87,"r":105},{"x":14.88,"y":2.72,"r":85},{"x":14.28,"y":2.91,"r":155},{"x":14.3,"y":2.89,"r":155},{"x":14.36,"y":2.75,"r":150},{"x":14.38,"y":2.73,"r":150},{"x":14.19,"y":2.64,"r":160},{"x":14.26,"y":2.52,"r":145},{"x":14.28,"y":2.5,"r":145},{"x":14.59,"y":2.56,"r":100},{"x":14.73,"y":2.57,"r":100},{"x":14.9,"y":2.56,"r":85},{"x":14.96,"y":2.43,"r":70},{"x":14.98,"y":2.41,"r":70},{"x":14.96,"y":2.33,"r":60},{"x":14.67,"y":2.33,"r":110},{"x":14.69,"y":2.31,"r":110},{"x":14.44,"y":2.33,"r":120},{"x":14.46,"y":2.31,"r":120},{"x":14.32,"y":2.25,"r":130},{"x":15.55,"y":2.23,"r":5},{"x":14.15,"y":2.06,"r":150},{"x":14.17,"y":2.04,"r":150},{"x":14.28,"y":1.9,"r":100},{"x":14.32,"y":1.67,"r":80},{"x":14.28,"y":1.48,"r":62},{"x":14.42,"y":1.37,"r":40},{"x":14.65,"y":1.52,"r":30},{"x":14.87,"y":1.56,"r":15},{"x":14.8,"y":1.31,"r":15},{"x":15.05,"y":2.06,"r":30},{"x":14.67,"y":1.98,"r":32},{"x":14.84,"y":2,"r":30},{"x":14.76,"y":1.88,"r":35},{"x":14.78,"y":1.86,"r":35},{"x":15.22,"y":0.97,"r":4},{"x":14.84,"y":0.54,"r":5},{"x":14.26,"y":1.13,"r":22},{"x":14.21,"y":0.99,"r":20},{"x":14.09,"y":0.95,"r":20},{"x":10.24,"y":3.28,"r":6},{"x":10.13,"y":3.06,"r":5},{"x":10.55,"y":3.17,"r":15},{"x":10.68,"y":3.19,"r":18},{"x":10.7,"y":3.18,"r":18},{"x":10.75,"y":3.43,"r":20},{"x":10.9,"y":3.35,"r":35},{"x":11.03,"y":3.3,"r":45},{"x":10.63,"y":2.96,"r":10},{"x":10.4,"y":2.63,"r":8},{"x":10.89,"y":2.93,"r":35},{"x":10.86,"y":2.73,"r":48},{"x":11.03,"y":2.73,"r":50},{"x":11.01,"y":3.12,"r":60},{"x":11.15,"y":3.06,"r":85},{"x":11.17,"y":3.04,"r":85},{"x":11.15,"y":2.91,"r":85},{"x":11.17,"y":2.89,"r":85},{"x":11.24,"y":3.45,"r":85},{"x":11.32,"y":3.37,"r":100},{"x":11.34,"y":3.35,"r":100},{"x":11.28,"y":3.22,"r":95},{"x":11.47,"y":3.16,"r":130},{"x":11.46,"y":2.81,"r":100},{"x":11.59,"y":3.41,"r":165},{"x":11.61,"y":3.39,"r":165},{"x":11.13,"y":2.56,"r":75},{"x":11.15,"y":2.54,"r":75},{"x":11.26,"y":2.35,"r":100},{"x":11.28,"y":2.33,"r":100},{"x":11.11,"y":2.21,"r":55},{"x":11.22,"y":2.19,"r":70},{"x":11.32,"y":2.12,"r":80},{"x":11.47,"y":2.1,"r":100},{"x":11.59,"y":2.1,"r":125},{"x":11.61,"y":2.08,"r":125},{"x":11.74,"y":2.12,"r":130},{"x":11.76,"y":2.1,"r":130},{"x":11.49,"y":2.33,"r":130},{"x":11.57,"y":2.33,"r":140},{"x":11.59,"y":2.31,"r":140},{"x":11.51,"y":2.5,"r":130},{"x":11.25,"y":1.91,"r":65},{"x":11.6,"y":1.94,"r":75},{"x":11.65,"y":1.84,"r":75},{"x":11.58,"y":1.75,"r":65},{"x":11.86,"y":1.94,"r":105},{"x":12.04,"y":1.75,"r":110},{"x":12.06,"y":1.55,"r":105},{"x":12.4,"y":1.6,"r":125},{"x":12.29,"y":1.42,"r":100},{"x":12.37,"y":1.26,"r":60},{"x":12.39,"y":1.24,"r":60},{"x":12.53,"y":1.94,"r":165},{"x":12.51,"y":1.88,"r":155},{"x":11.22,"y":1.64,"r":30},{"x":11.24,"y":1.66,"r":30},{"x":11.45,"y":1.47,"r":30},{"x":10.86,"y":1.57,"r":12},{"x":10.77,"y":1.46,"r":12},{"x":10.79,"y":1.48,"r":12},{"x":10.78,"y":1.32,"r":12},{"x":11.35,"y":1.28,"r":20},{"x":11.18,"y":1.21,"r":15},{"x":11.76,"y":1.17,"r":20},{"x":11.85,"y":0.92,"r":12},{"x":12.65,"y":1.48,"r":135},{"x":12.67,"y":1.46,"r":135},{"x":12.64,"y":1.37,"r":115},{"x":12.86,"y":1.33,"r":105},{"x":12.97,"y":1.38,"r":115},{"x":13.01,"y":1.56,"r":135},{"x":12.82,"y":1.65,"r":150},{"x":12.84,"y":1.63,"r":150},{"x":12.74,"y":1.82,"r":165},{"x":12.76,"y":1.8,"r":165},{"x":12.9,"y":1.75,"r":160},{"x":13.07,"y":1.9,"r":170},{"x":13.26,"y":1.72,"r":135},{"x":13.22,"y":1.47,"r":125},{"x":13.39,"y":1.43,"r":110},{"x":13.42,"y":1.57,"r":145},{"x":13.44,"y":1.55,"r":145},{"x":13.76,"y":1.72,"r":120},{"x":13.78,"y":1.7,"r":120},{"x":13.86,"y":1.73,"r":105},{"x":13.74,"y":1.55,"r":100},{"x":13.88,"y":1.55,"r":95},{"x":13.96,"y":1.44,"r":70},{"x":13.82,"y":1.36,"r":70},{"x":13.84,"y":1.34,"r":70},{"x":13.69,"y":1.21,"r":62},{"x":13.57,"y":1.24,"r":55},{"x":13.88,"y":1.22,"r":55},{"x":13.9,"y":1.13,"r":45},{"x":12.74,"y":1.11,"r":48},{"x":12.92,"y":1.11,"r":50},{"x":12.63,"y":1.01,"r":38},{"x":12.65,"y":0.99,"r":38},{"x":12.65,"y":0.91,"r":30},{"x":12.5,"y":0.87,"r":25},{"x":13.09,"y":0.86,"r":30},{"x":13.41,"y":1,"r":35},{"x":13.71,"y":0.88,"r":28},{"x":13.87,"y":0.77,"r":20},{"x":13.53,"y":0.72,"r":22},{"x":13.35,"y":0.73,"r":22},{"x":13.18,"y":0.68,"r":20},{"x":12.76,"y":0.68,"r":15},{"x":13.45,"y":0.55,"r":15},{"x":12.61,"y":0.16,"r":4},{"x":12.51,"y":0.08,"r":4},
{"x":12.6,"y":4.2,"r":165},{"x":12.8,"y":4.2,"r":170},{"x":13,"y":4.2,"r":170},{"x":13.45,"y":4.2,"r":165},{"x":13.62,"y":4.2,"r":160},{"x":11.95,"y":4.05,"r":150},{"x":12.15,"y":4.05,"r":165},{"x":12.35,"y":4.05,"r":180},{"x":12.55,"y":4.05,"r":195},{"x":12.75,"y":4.05,"r":200},{"x":13.3,"y":4.05,"r":195},{"x":13.5,"y":4.05,"r":185},{"x":13.7,"y":4.05,"r":170},{"x":13.9,"y":4.05,"r":150},{"x":11.85,"y":3.92,"r":150},{"x":12.05,"y":3.92,"r":165},{"x":12.25,"y":3.92,"r":185},{"x":12.45,"y":3.92,"r":205},{"x":12.65,"y":3.92,"r":220},{"x":12.85,"y":3.92,"r":225},{"x":13.2,"y":3.92,"r":220},{"x":13.4,"y":3.92,"r":205},{"x":13.6,"y":3.92,"r":190},{"x":13.8,"y":3.92,"r":165},{"x":11.8,"y":3.78,"r":150},{"x":12,"y":3.78,"r":170},{"x":12.2,"y":3.78,"r":190},{"x":12.4,"y":3.78,"r":210},{"x":12.6,"y":3.78,"r":235},{"x":12.8,"y":3.78,"r":250},{"x":13,"y":3.78,"r":255},{"x":13.2,"y":3.78,"r":240},{"x":13.4,"y":3.78,"r":220},{"x":13.6,"y":3.78,"r":200},{"x":13.8,"y":3.78,"r":180},{"x":11.75,"y":3.65,"r":155},{"x":11.95,"y":3.65,"r":175},{"x":12.15,"y":3.65,"r":195},{"x":12.35,"y":3.65,"r":220},{"x":12.55,"y":3.65,"r":250},{"x":12.9,"y":3.65,"r":270},{"x":13.1,"y":3.65,"r":270},{"x":13.3,"y":3.65,"r":250},{"x":13.5,"y":3.65,"r":225},{"x":13.7,"y":3.65,"r":205},{"x":13.9,"y":3.65,"r":185},{"x":14.1,"y":3.65,"r":165},{"x":11.9,"y":3.52,"r":175},{"x":12.1,"y":3.52,"r":200},{"x":12.3,"y":3.52,"r":230},{"x":12.5,"y":3.52,"r":260},{"x":12.9,"y":3.52,"r":300},{"x":13.1,"y":3.52,"r":300},{"x":13.3,"y":3.52,"r":270},{"x":13.5,"y":3.52,"r":240},{"x":13.7,"y":3.52,"r":210},{"x":13.9,"y":3.52,"r":190},{"x":11.9,"y":3.4,"r":180},{"x":12.1,"y":3.4,"r":205},{"x":12.3,"y":3.4,"r":240},{"x":12.5,"y":3.4,"r":275},{"x":12.7,"y":3.4,"r":310},{"x":12.9,"y":3.4,"r":320},{"x":13.1,"y":3.4,"r":310},{"x":13.3,"y":3.4,"r":280},{"x":13.5,"y":3.4,"r":245},{"x":13.7,"y":3.4,"r":215},{"x":13.9,"y":3.4,"r":190},{"x":12.15,"y":3.27,"r":220},{"x":12.35,"y":3.27,"r":255},{"x":12.55,"y":3.27,"r":300},{"x":12.75,"y":3.27,"r":340},{"x":12.9,"y":3.27,"r":350},{"x":13.15,"y":3.27,"r":345},{"x":13.35,"y":3.27,"r":300},{"x":13.55,"y":3.27,"r":250},{"x":13.75,"y":3.27,"r":220},{"x":13.95,"y":3.27,"r":190},{"x":11.7,"y":3.14,"r":175},{"x":11.9,"y":3.14,"r":190},{"x":12.1,"y":3.14,"r":220},{"x":12.3,"y":3.14,"r":265},{"x":12.5,"y":3.14,"r":320},{"x":12.7,"y":3.14,"r":360},{"x":12.9,"y":3.14,"r":380},{"x":13.05,"y":3.14,"r":385},{"x":13.25,"y":3.14,"r":350},{"x":13.45,"y":3.14,"r":290},{"x":13.65,"y":3.14,"r":240},{"x":13.85,"y":3.14,"r":210},{"x":14.05,"y":3.14,"r":180},{"x":11.6,"y":3,"r":165},{"x":11.8,"y":3,"r":190},{"x":12,"y":3,"r":215},{"x":12.2,"y":3,"r":250},{"x":12.4,"y":3,"r":300},{"x":12.6,"y":3,"r":350},{"x":12.8,"y":3,"r":380},{"x":13,"y":3,"r":386},{"x":13.2,"y":3,"r":360},{"x":13.4,"y":3,"r":300},{"x":13.6,"y":3,"r":250},{"x":13.8,"y":3,"r":215},{"x":14,"y":3,"r":185},{"x":11.7,"y":2.87,"r":175},{"x":11.9,"y":2.87,"r":200},{"x":12.1,"y":2.87,"r":230},{"x":12.3,"y":2.87,"r":270},{"x":12.5,"y":2.87,"r":325},{"x":12.7,"y":2.87,"r":365},{"x":12.9,"y":2.87,"r":375},{"x":13.1,"y":2.87,"r":355},{"x":13.3,"y":2.87,"r":310},{"x":13.5,"y":2.87,"r":265},{"x":13.7,"y":2.87,"r":225},{"x":13.9,"y":2.87,"r":195},{"x":14.1,"y":2.87,"r":170},{"x":11.6,"y":2.74,"r":160},{"x":11.8,"y":2.74,"r":185},{"x":12,"y":2.74,"r":210},{"x":12.2,"y":2.74,"r":245},{"x":12.4,"y":2.74,"r":285},{"x":12.6,"y":2.74,"r":330},{"x":12.8,"y":2.74,"r":345},{"x":13,"y":2.74,"r":335},{"x":13.2,"y":2.74,"r":300},{"x":13.4,"y":2.74,"r":280},{"x":13.6,"y":2.74,"r":235},{"x":13.8,"y":2.74,"r":205},{"x":14,"y":2.74,"r":175},{"x":11.7,"y":2.6,"r":165},{"x":11.9,"y":2.6,"r":190},{"x":12.1,"y":2.6,"r":215},{"x":12.3,"y":2.6,"r":250},{"x":12.5,"y":2.6,"r":290},{"x":12.7,"y":2.6,"r":310},{"x":12.9,"y":2.6,"r":310},{"x":13.1,"y":2.6,"r":290},{"x":13.3,"y":2.6,"r":265},{"x":13.65,"y":2.6,"r":225},{"x":13.85,"y":2.6,"r":195},{"x":14.05,"y":2.6,"r":165},{"x":11.6,"y":2.47,"r":155},{"x":11.8,"y":2.47,"r":175},{"x":12,"y":2.47,"r":195},{"x":12.2,"y":2.47,"r":225},{"x":12.4,"y":2.47,"r":260},{"x":12.6,"y":2.47,"r":275},{"x":12.8,"y":2.47,"r":275},{"x":13,"y":2.47,"r":265},{"x":13.2,"y":2.47,"r":250},{"x":13.4,"y":2.47,"r":235},{"x":13.6,"y":2.47,"r":215},{"x":13.8,"y":2.47,"r":185},{"x":11.7,"y":2.34,"r":165},{"x":11.9,"y":2.34,"r":180},{"x":12.1,"y":2.34,"r":205},{"x":12.3,"y":2.34,"r":230},{"x":12.5,"y":2.34,"r":250},{"x":12.7,"y":2.34,"r":255},{"x":12.9,"y":2.34,"r":250},{"x":13.1,"y":2.34,"r":245},{"x":13.3,"y":2.34,"r":235},{"x":13.5,"y":2.34,"r":220},{"x":13.7,"y":2.34,"r":195},{"x":13.95,"y":2.34,"r":165},{"x":11.8,"y":2.2,"r":160},{"x":12,"y":2.2,"r":175},{"x":12.2,"y":2.2,"r":200},{"x":12.4,"y":2.2,"r":220},{"x":12.6,"y":2.2,"r":235},{"x":12.8,"y":2.2,"r":235},{"x":13,"y":2.2,"r":235},{"x":13.2,"y":2.2,"r":225},{"x":13.4,"y":2.2,"r":210},{"x":13.6,"y":2.2,"r":190},{"x":13.8,"y":2.2,"r":165},{"x":12,"y":2.07,"r":165},{"x":12.2,"y":2.07,"r":180},{"x":12.4,"y":2.07,"r":200},{"x":12.6,"y":2.07,"r":210},{"x":12.8,"y":2.07,"r":215},{"x":13,"y":2.07,"r":210},{"x":13.2,"y":2.07,"r":200},{"x":13.4,"y":2.07,"r":190},{"x":13.6,"y":2.07,"r":170},{"x":12.1,"y":1.93,"r":170},{"x":12.55,"y":1.93,"r":180},{"x":12.75,"y":1.93,"r":185},{"x":13.05,"y":1.93,"r":175},{"x":13.35,"y":1.93,"r":185},{"x":13.55,"y":1.93,"r":165}
],"bar":[
{"lo":2,"hi":4.5,"nx":5.2},{"lo":5.2,"hi":7.6,"nx":8.3},{"lo":8.3,"hi":10.8,"nx":11.5},{"lo":11.5,"hi":14.9,"nx":15.6},{"lo":15.6,"hi":18.1,"nx":18.8},{"lo":18.8,"hi":21.2,"nx":21.9},{"lo":21.9,"hi":24.4,"nx":25.1},{"lo":25.1,"hi":28.5,"nx":29.2},{"lo":29.2,"hi":31.7,"nx":32.4},{"lo":32.4,"hi":34.8,"nx":35.5},{"lo":35.5,"hi":38,"nx":38.7},{"lo":38.7,"hi":42.1,"nx":42.8},{"lo":42.8,"hi":45.3,"nx":46},{"lo":46,"hi":47.8,"nx":49.9},{"lo":49.9,"hi":51.6,"nx":52.3},{"lo":52.3,"hi":55.7,"nx":56.4},{"lo":56.4,"hi":58.9,"nx":59.6},{"lo":59.6,"hi":62,"nx":62.7},{"lo":62.7,"hi":65.2,"nx":65.9},{"lo":65.9,"hi":69.3,"nx":70},{"lo":70,"hi":72.5,"nx":73.2},{"lo":73.2,"hi":75.6,"nx":76.3},{"lo":76.3,"hi":78.8,"nx":79.5},{"lo":79.5,"hi":82.9,"nx":83.6},{"lo":83.6,"hi":86.1,"nx":86.8},{"lo":86.8,"hi":89.2,"nx":89.9},{"lo":89.9,"hi":92.4,"nx":93.1},{"lo":93.1,"hi":96.5,"nx":97.2},{"lo":97.2,"hi":99.7,"nx":100.4},{"lo":100.4,"hi":102.8,"nx":103.5},{"lo":103.5,"hi":106,"nx":106.7},{"lo":106.7,"hi":110.1,"nx":110.8},{"lo":110.8,"hi":113.3,"nx":114},{"lo":114,"hi":116.4,"nx":117.1},{"lo":117.1,"hi":119.6,"nx":120.3},{"lo":120.3,"hi":123.7,"nx":124.4},{"lo":124.4,"hi":126.9,"nx":127.6},{"lo":127.6,"hi":130,"nx":130.7},{"lo":130.7,"hi":133.2,"nx":133.9},{"lo":133.9,"hi":137.3,"nx":138},{"lo":138,"hi":140.5,"nx":141.2},{"lo":141.2,"hi":143.6,"nx":144.3},{"lo":144.3,"hi":146.8,"nx":147.5},{"lo":147.5,"hi":150.9,"nx":151.6},{"lo":151.6,"hi":154.1,"nx":154.8},{"lo":154.8,"hi":157.2,"nx":157.9},{"lo":157.9,"hi":160.4,"nx":161.1},{"lo":161.1,"hi":164.5,"nx":165.2},{"lo":165.2,"hi":167.7,"nx":168.4},{"lo":168.4,"hi":170.8,"nx":171.5},{"lo":171.5,"hi":174,"nx":174.7},{"lo":174.7,"hi":178.1,"nx":178.8},{"lo":178.8,"hi":181.3,"nx":182},{"lo":182,"hi":184.4,"nx":185.1},{"lo":185.1,"hi":187.6,"nx":188.3},{"lo":188.3,"hi":191.7,"nx":192.4},{"lo":192.4,"hi":194.9,"nx":195.6},{"lo":195.6,"hi":198,"nx":198.7},{"lo":198.7,"hi":201.2,"nx":201.9},{"lo":201.9,"hi":205.3,"nx":206},{"lo":206,"hi":208.5,"nx":209.2},{"lo":209.2,"hi":211.6,"nx":212.3},{"lo":212.3,"hi":214.8,"nx":215.5},{"lo":215.5,"hi":218.9,"nx":219.6},{"lo":219.6,"hi":222.1,"nx":222.8},{"lo":222.8,"hi":225.2,"nx":225.9},{"lo":225.9,"hi":228.4,"nx":229.1},{"lo":229.1,"hi":232.5,"nx":233.2},{"lo":233.2,"hi":235.7,"nx":236.4},{"lo":236.4,"hi":238.8,"nx":239.5},{"lo":239.5,"hi":242,"nx":242.7},{"lo":242.7,"hi":246.1,"nx":246.8},{"lo":246.8,"hi":249.3,"nx":250},{"lo":250,"hi":252.4,"nx":253.1},{"lo":253.1,"hi":255.6,"nx":256.3},{"lo":256.3,"hi":259.7,"nx":260.4},{"lo":260.4,"hi":262.9,"nx":263.6},{"lo":263.6,"hi":266,"nx":266.7},{"lo":266.7,"hi":269.2,"nx":269.9},{"lo":269.9,"hi":273.3,"nx":274},{"lo":274,"hi":276.5,"nx":277.2},{"lo":277.2,"hi":279.6,"nx":280.3},{"lo":280.3,"hi":282.8,"nx":283.5},{"lo":283.5,"hi":286.9,"nx":287.6},{"lo":287.6,"hi":290.1,"nx":290.8},{"lo":290.8,"hi":293.2,"nx":293.9},{"lo":293.9,"hi":296.4,"nx":297.1},{"lo":297.1,"hi":300.5,"nx":301.2},{"lo":301.2,"hi":303.7,"nx":304.4},{"lo":304.4,"hi":306.8,"nx":307.5},{"lo":307.5,"hi":310,"nx":310.7},{"lo":310.7,"hi":314.1,"nx":314.8},{"lo":314.8,"hi":317.3,"nx":318},{"lo":318,"hi":320.4,"nx":321.1},{"lo":321.1,"hi":323.6,"nx":324.3},{"lo":324.3,"hi":327.7,"nx":328.4},{"lo":328.4,"hi":330.9,"nx":331.6},{"lo":331.6,"hi":334,"nx":334.7},{"lo":334.7,"hi":337.2,"nx":337.9},{"lo":337.9,"hi":341.3,"nx":342},{"lo":342,"hi":344.5,"nx":345.2},{"lo":345.2,"hi":347.6,"nx":348.3},{"lo":348.3,"hi":350.8,"nx":351.5},{"lo":351.5,"hi":354.9,"nx":355.6},{"lo":355.6,"hi":358.1,"nx":358.8},{"lo":358.8,"hi":361.2,"nx":361.9},{"lo":361.9,"hi":364.4,"nx":365.1},{"lo":365.1,"hi":368.5,"nx":369.2},{"lo":369.2,"hi":371.7,"nx":372.4},{"lo":372.4,"hi":374.8,"nx":375.5},{"lo":375.5,"hi":378,"nx":378.7},{"lo":378.7,"hi":382.1,"nx":382.8},{"lo":382.8,"hi":386.6,"nx":386.6}
]},"hconcat":[{"width":1404,"height":1304,"data":{"name":"pts"},"mark":{"type":"circle","clip":true},"encoding":{"x":{"field":"x","type":"quantitative","scale":{"domain":[-0.387,17.15],"nice":false,"zero":false},"axis":{"values":[0,2,4,6,8,10,12,14,16],"labelPadding":15,"labelAngle":0,"title":"X","titleFont":"DejaVu Serif Condensed","titleFontSize":105,"titleFontWeight":"normal","titleColor":"#000","titleX":689,"titleY":167,"titleAlign":"center","titleBaseline":"alphabetic"}},"y":{"field":"y","type":"quantitative","scale":{"domain":[-0.592,14.05],"nice":false,"zero":false},"axis":{"values":[0,2,4,6,8,10,12,14],"labelPadding":20,"labelOffset":1.5,"title":"Y","titleAngle":0,"titleFont":"DejaVu Serif Condensed","titleFontSize":105,"titleFontWeight":"normal","titleColor":"#000","titleX":-145,"titleY":712,"titleAlign":"center","titleBaseline":"alphabetic"}},"color":{"field":"r","type":"quantitative","legend":null,"scale":{"domain":[2,50,100,150,200,250,300,350,386.6],"range":["#540054","#4A2080","#204A96","#006286","#00867E","#00B85B","#22D44C","#B0E200","#FFDB00"]}},"size":{"field":"r","type":"quantitative","legend":null,"scale":{"domain":[2,20,50,200,386.6],"range":[70,140,185,300,380]}},"opacity":{"field":"r","type":"quantitative","legend":null,"scale":{"domain":[2,50,150,386.6],"range":[0.62,0.62,0.74,0.95]}},"order":{"field":"r","type":"quantitative"}}},{"width":65,"height":1304,"data":{"name":"bar"},"encoding":{"color":{"field":"lo","type":"quantitative","legend":null,"scale":{"domain":[2,50,100,150,200,250,300,350,386.6],"range":["#873C87","#7D5A9B","#557DAA","#3291AA","#00AAA5","#00CD8C","#64E182","#C8EB46","#FFE63C"]}},"x":{"value":2},"x2":{"value":63}},"layer":[{"mark":{"type":"rect","opacity":0.72},"encoding":{"y":{"field":"lo","type":"quantitative","scale":{"domain":[2,386.6],"nice":false,"zero":false},"axis":{"orient":"right","values":[50,100,150,200,250,300,350],"labelPadding":16,"labelOffset":1.5,"title":"ρ","titleAngle":0,"titleFont":"Liberation Serif","titleFontSize":115,"titleFontWeight":"normal","titleColor":"#000","titleX":69,"titleY":-14,"titleAlign":"center","titleBaseline":"alphabetic"}},"y2":{"field":"nx"}}},{"mark":{"type":"rect","opacity":1},"encoding":{"y":{"field":"lo","type":"quantitative"},"y2":{"field":"hi"}}}]}]}
